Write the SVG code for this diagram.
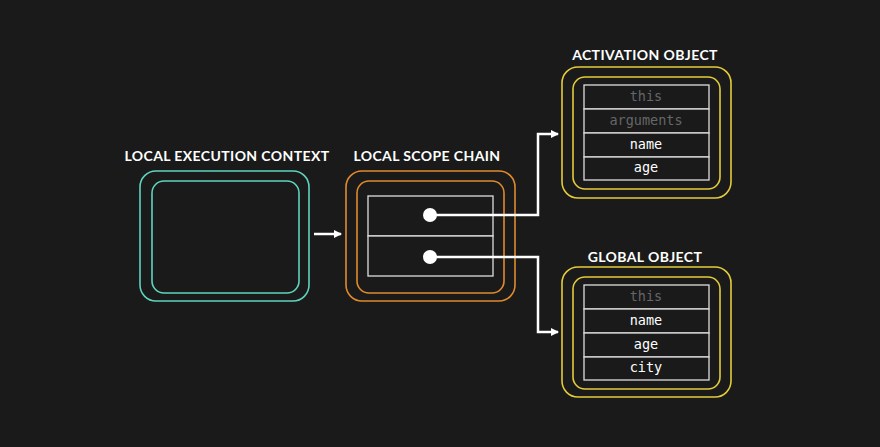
<svg xmlns="http://www.w3.org/2000/svg" width="880" height="447" viewBox="0 0 880 447">
<style>
.t{font-family:"Lato","Liberation Sans",sans-serif;font-weight:bold;font-size:14px;letter-spacing:0.4px;fill:#fff;text-anchor:middle}
.m{font-family:"DejaVu Sans Mono","Liberation Mono",monospace;font-size:13.5px;fill:#fff;text-anchor:middle}
.g{fill:#666}
.y{fill:none;stroke:#e3cb3b;stroke-width:1.6}
.o{fill:none;stroke:#e08a2c;stroke-width:1.6}
.e{fill:none;stroke:#5fd4bd;stroke-width:1.6}
.cell{fill:#1a1a1a;stroke:#ddd;stroke-width:1.3}
.c{fill:none;stroke:#fff;stroke-width:2.5}
</style>
<defs><marker id="a" markerWidth="8" markerHeight="8" refX="7" refY="4" orient="auto" markerUnits="userSpaceOnUse"><path d="M0,0L8,4L0,8Z" fill="#fff"/></marker></defs>
<rect width="880" height="447" fill="#1a1a1a"/>
<g id="lec">
<text class="t" x="227" y="161">LOCAL EXECUTION CONTEXT</text>
<rect class="e" x="140" y="171" width="169" height="130" rx="16"/>
<rect class="e" x="152" y="181" width="147" height="112" rx="12"/>
</g>
<g id="lsc">
<text class="t" x="427" y="161">LOCAL SCOPE CHAIN</text>
<rect class="o" x="346" y="171" width="169" height="130" rx="16"/>
<rect class="o" x="357" y="181" width="147" height="112" rx="12"/>
<rect class="cell" x="368" y="196" width="125" height="40"/>
<rect class="cell" x="368" y="236" width="125" height="40"/>
</g>
<g id="ao">
<text class="t" x="645" y="60">ACTIVATION OBJECT</text>
<rect class="y" x="562" y="67" width="169" height="131" rx="16"/>
<rect class="y" x="573" y="77" width="147" height="112" rx="12"/>
<rect class="cell" x="584" y="85" width="125" height="24"/>
<rect class="cell" x="584" y="109" width="125" height="24"/>
<rect class="cell" x="584" y="133" width="125" height="24"/>
<rect class="cell" x="584" y="157" width="125" height="23"/>
<text class="m g" x="646" y="101">this</text>
<text class="m g" x="646" y="125">arguments</text>
<text class="m" x="646" y="149">name</text>
<text class="m" x="646" y="172">age</text>
</g>
<g id="go">
<text class="t" x="645" y="262">GLOBAL OBJECT</text>
<rect class="y" x="562" y="267" width="169" height="130" rx="16"/>
<rect class="y" x="573" y="277" width="147" height="112" rx="12"/>
<rect class="cell" x="584" y="285" width="125" height="24"/>
<rect class="cell" x="584" y="309" width="125" height="24"/>
<rect class="cell" x="584" y="333" width="125" height="24"/>
<rect class="cell" x="584" y="357" width="125" height="23"/>
<text class="m g" x="646" y="301">this</text>
<text class="m" x="646" y="325">name</text>
<text class="m" x="646" y="349">age</text>
<text class="m" x="646" y="372">city</text>
</g>
<g id="connectors">
<line class="c" x1="314" y1="234" x2="341" y2="234" marker-end="url(#a)"/>
<circle cx="430" cy="215" r="7" fill="#fff"/>
<circle cx="430" cy="257" r="7" fill="#fff"/>
<path class="c" d="M430,215H538V134H558" marker-end="url(#a)"/>
<path class="c" d="M430,257H538V332H558" marker-end="url(#a)"/>
</g>
</svg>
